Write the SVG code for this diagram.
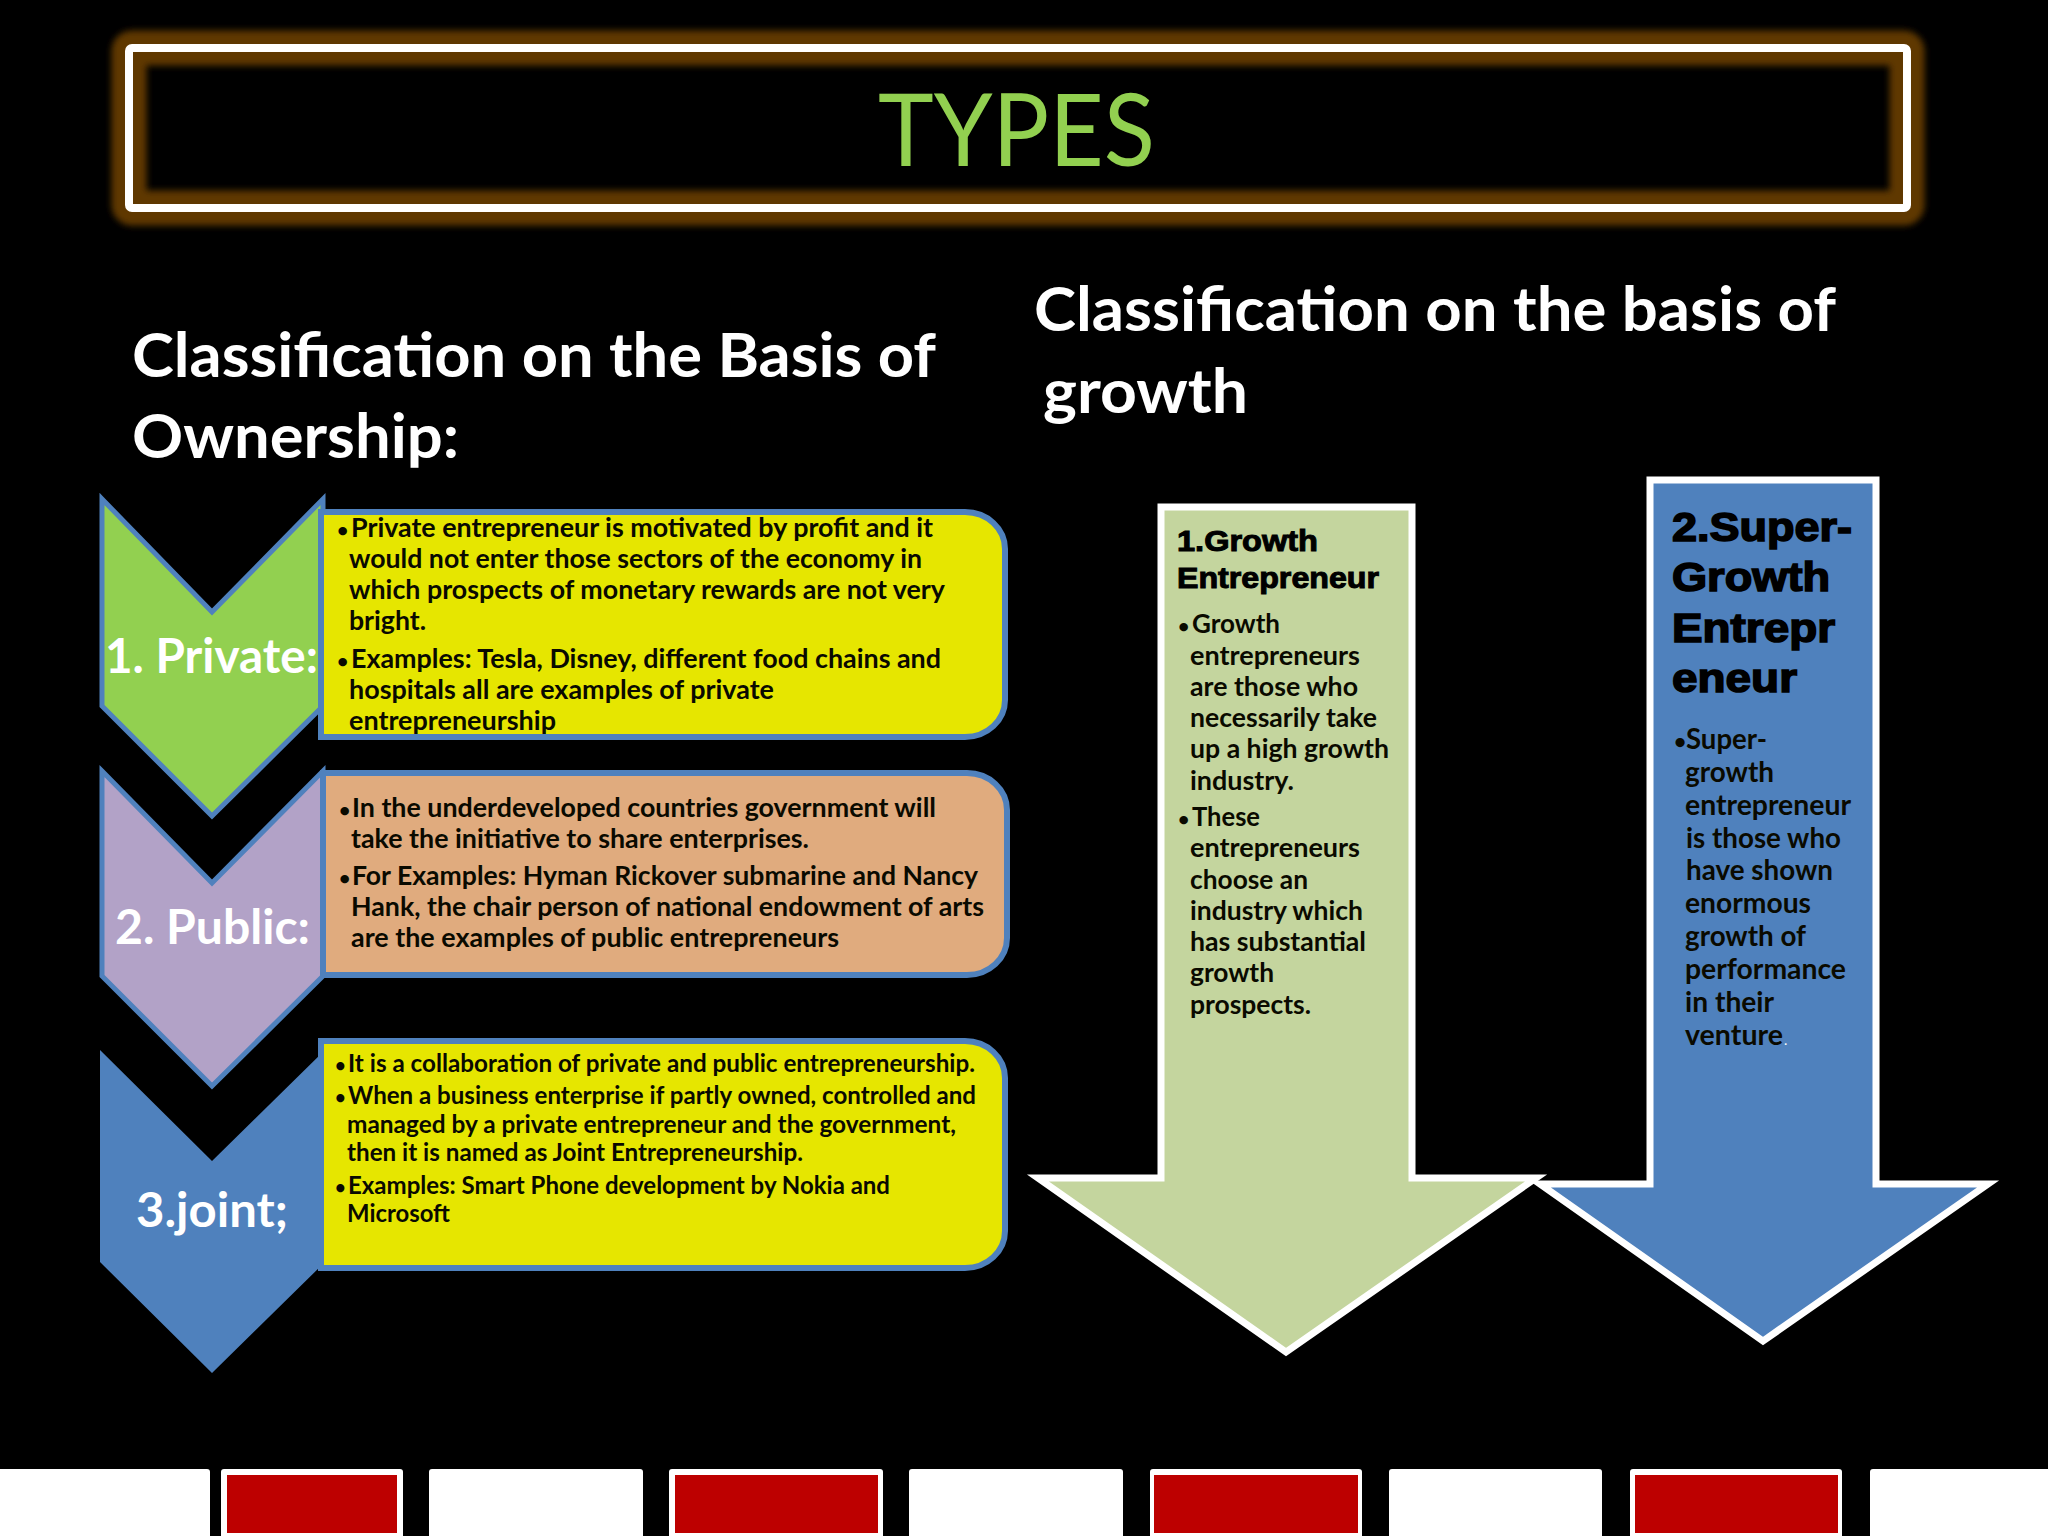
<svg xmlns="http://www.w3.org/2000/svg" width="2048" height="1536" viewBox="0 0 2048 1536">
<style>
text{font-family:"Lato","Open Sans","Liberation Sans",sans-serif}
.h{font-size:62px;font-weight:700;fill:#fff}
.lab{font-size:47px;font-weight:700;fill:#fff;text-anchor:start}
.b{font-weight:700;fill:#0a0a00}
.b1{font-size:26px}
.b3{font-size:24.5px}
.a1{font-size:26px}
.a2{font-size:28px}
.dot{font-size:.75em}
.hd text{font-family:"Liberation Sans",Arial,sans-serif;font-weight:700;fill:#000;stroke:#000}
.chev{stroke:#4f81bd;stroke-width:5;stroke-miterlimit:10}
.box{stroke:#4f81bd;stroke-width:6}
.arr{stroke:#fff;stroke-width:7;stroke-miterlimit:10}
.w{fill:#fff}
.r{fill:#bd0000}
</style>
<defs>
<filter id="glow" filterUnits="userSpaceOnUse" x="60" y="0" width="1920" height="270"><feGaussianBlur stdDeviation="3"/></filter>
</defs>
<rect width="2048" height="1536" fill="#000"/>
<g id="title">
<rect x="129" y="48" width="1778" height="160" rx="3" fill="none" stroke="#5e3800" stroke-width="35" filter="url(#glow)"/>
<rect x="129" y="48" width="1778" height="160" rx="3" fill="none" stroke="#fff" stroke-width="8"/>
<text x="878" y="166" font-size="101" fill="#92d050" textLength="277" lengthAdjust="spacingAndGlyphs">TYPES</text>
</g>
<g id="heading-ownership">
<text class="h" x="132" y="377" textLength="804" lengthAdjust="spacingAndGlyphs">Classification on the Basis of</text>
<text class="h" x="132" y="458" textLength="327" lengthAdjust="spacingAndGlyphs">Ownership:</text>
</g>
<g id="heading-growth">
<text class="h" x="1034" y="331" textLength="802" lengthAdjust="spacingAndGlyphs">Classification on the basis of</text>
<text class="h" x="1043" y="413" textLength="205" lengthAdjust="spacingAndGlyphs">growth</text>
</g>
<g id="node-private">
<path class="chev" fill="#92d050" d="M102 499 L212 612 L323 499 L323 706 L212 816 L102 706 Z"/>
<path class="box" fill="#e6e600" d="M321 512 H965 A40 37 0 0 1 1005 549 V700 A40 37 0 0 1 965 737 H321 Z"/>
<text class="lab" x="105" y="673" textLength="213" lengthAdjust="spacingAndGlyphs">1. Private:</text>
<g class="b b1">
<text y="537"><tspan class="dot" x="337">•</tspan><tspan x="351" textLength="582" lengthAdjust="spacingAndGlyphs">Private entrepreneur is motivated by profit and it</tspan></text>
<text x="349" y="568" textLength="573" lengthAdjust="spacingAndGlyphs">would not enter those sectors of the economy in</text>
<text x="349" y="599" textLength="596" lengthAdjust="spacingAndGlyphs">which prospects of monetary rewards are not very</text>
<text x="349" y="630" textLength="77" lengthAdjust="spacingAndGlyphs">bright.</text>
<text y="668"><tspan class="dot" x="337">•</tspan><tspan x="351" textLength="590" lengthAdjust="spacingAndGlyphs">Examples: Tesla, Disney, different food chains and</tspan></text>
<text x="349" y="699" textLength="425" lengthAdjust="spacingAndGlyphs">hospitals all are examples of private</text>
<text x="349" y="730" textLength="207" lengthAdjust="spacingAndGlyphs">entrepreneurship</text>
</g>
</g>
<g id="node-public">
<path class="chev" fill="#b2a2c7" d="M102 771 L212 883 L323 771 L323 976 L212 1086 L102 976 Z"/>
<path class="box" fill="#e0ab7e" d="M323 773 H967 A40 37 0 0 1 1007 810 V938 A40 37 0 0 1 967 975 H323 Z"/>
<text class="lab" x="115" y="944" textLength="195" lengthAdjust="spacingAndGlyphs">2. Public:</text>
<g class="b b1">
<text y="817"><tspan class="dot" x="339">•</tspan><tspan x="352" textLength="584" lengthAdjust="spacingAndGlyphs">In the underdeveloped countries government will</tspan></text>
<text x="351" y="848" textLength="458" lengthAdjust="spacingAndGlyphs">take the initiative to share enterprises.</text>
<text y="885"><tspan class="dot" x="339">•</tspan><tspan x="352" textLength="626" lengthAdjust="spacingAndGlyphs">For Examples: Hyman Rickover submarine and Nancy</tspan></text>
<text x="351" y="916" textLength="633" lengthAdjust="spacingAndGlyphs">Hank, the chair person of national endowment of arts</text>
<text x="351" y="947" textLength="488" lengthAdjust="spacingAndGlyphs">are the examples of public entrepreneurs</text>
</g>
</g>
<g id="node-joint">
<path fill="#4f81bd" d="M100 1050 L212 1161 L325 1050 V1262 L212 1373 L100 1262 Z"/>
<path class="box" fill="#e6e600" d="M321 1041 H965 A40 37 0 0 1 1005 1078 V1231 A40 37 0 0 1 965 1268 H321 Z"/>
<text class="lab" x="136" y="1227" textLength="152" lengthAdjust="spacingAndGlyphs">3.joint;</text>
<g class="b b3">
<text y="1072"><tspan class="dot" x="335">•</tspan><tspan x="348" textLength="627" lengthAdjust="spacingAndGlyphs">It is a collaboration of private and public entrepreneurship.</tspan></text>
<text y="1104"><tspan class="dot" x="335">•</tspan><tspan x="348" textLength="628" lengthAdjust="spacingAndGlyphs">When a business enterprise if partly owned, controlled and</tspan></text>
<text x="347" y="1133" textLength="609" lengthAdjust="spacingAndGlyphs">managed by a private entrepreneur and the government,</text>
<text x="347" y="1161" textLength="456" lengthAdjust="spacingAndGlyphs">then it is named as Joint Entrepreneurship.</text>
<text y="1194"><tspan class="dot" x="335">•</tspan><tspan x="348" textLength="542" lengthAdjust="spacingAndGlyphs">Examples: Smart Phone development by Nokia and</tspan></text>
<text x="347" y="1222" textLength="103" lengthAdjust="spacingAndGlyphs">Microsoft</text>
</g>
</g>
<g id="node-super-growth">
<path class="arr" fill="#4f81bd" d="M1650 480 H1876 V1184 H1988 L1763 1341 L1540 1184 H1650 Z"/>
<g class="hd" stroke-width="1.6" font-size="41">
<text x="1672" y="541" textLength="180" lengthAdjust="spacingAndGlyphs">2.Super-</text>
<text x="1672" y="591" textLength="158" lengthAdjust="spacingAndGlyphs">Growth</text>
<text x="1672" y="642" textLength="163" lengthAdjust="spacingAndGlyphs">Entrepr</text>
<text x="1672" y="692" textLength="125" lengthAdjust="spacingAndGlyphs">eneur</text>
</g>
<g class="b a2">
<text y="749"><tspan class="dot" x="1674">•</tspan><tspan x="1686" textLength="81" lengthAdjust="spacingAndGlyphs">Super-</tspan></text>
<text x="1685" y="782" textLength="89" lengthAdjust="spacingAndGlyphs">growth</text>
<text x="1685" y="815" textLength="166" lengthAdjust="spacingAndGlyphs">entrepreneur</text>
<text x="1686" y="848" textLength="155" lengthAdjust="spacingAndGlyphs">is those who</text>
<text x="1686" y="880" textLength="147" lengthAdjust="spacingAndGlyphs">have shown</text>
<text x="1685" y="913" textLength="126" lengthAdjust="spacingAndGlyphs">enormous</text>
<text x="1685" y="946" textLength="121" lengthAdjust="spacingAndGlyphs">growth of</text>
<text x="1685" y="979" textLength="161" lengthAdjust="spacingAndGlyphs">performance</text>
<text x="1685" y="1012" textLength="89" lengthAdjust="spacingAndGlyphs">in their</text>
<text y="1045"><tspan x="1685" textLength="98" lengthAdjust="spacingAndGlyphs">venture</tspan><tspan x="1784" style="fill:#fff;font-weight:400;font-size:14px">.</tspan></text>
</g>
</g>
<g id="node-growth">
<path class="arr" fill="#c4d59e" d="M1161 507 H1412 V1178 H1536 L1286 1352 L1038 1178 H1161 Z"/>
<g class="hd" stroke-width="1" font-size="29">
<text x="1177" y="551" textLength="141" lengthAdjust="spacingAndGlyphs">1.Growth</text>
<text x="1177" y="588" textLength="202" lengthAdjust="spacingAndGlyphs">Entrepreneur</text>
</g>
<g class="b a1">
<text y="633"><tspan class="dot" x="1178">•</tspan><tspan x="1192" textLength="88" lengthAdjust="spacingAndGlyphs">Growth</tspan></text>
<text x="1190" y="665" textLength="170" lengthAdjust="spacingAndGlyphs">entrepreneurs</text>
<text x="1190" y="696" textLength="168" lengthAdjust="spacingAndGlyphs">are those who</text>
<text x="1190" y="727" textLength="187" lengthAdjust="spacingAndGlyphs">necessarily take</text>
<text x="1190" y="758" textLength="199" lengthAdjust="spacingAndGlyphs">up a high growth</text>
<text x="1190" y="790" textLength="104" lengthAdjust="spacingAndGlyphs">industry.</text>
<text y="826"><tspan class="dot" x="1178">•</tspan><tspan x="1192" textLength="68" lengthAdjust="spacingAndGlyphs">These</tspan></text>
<text x="1190" y="857" textLength="170" lengthAdjust="spacingAndGlyphs">entrepreneurs</text>
<text x="1190" y="889" textLength="118" lengthAdjust="spacingAndGlyphs">choose an</text>
<text x="1190" y="920" textLength="173" lengthAdjust="spacingAndGlyphs">industry which</text>
<text x="1190" y="951" textLength="176" lengthAdjust="spacingAndGlyphs">has substantial</text>
<text x="1190" y="982" textLength="84" lengthAdjust="spacingAndGlyphs">growth</text>
<text x="1190" y="1014" textLength="121" lengthAdjust="spacingAndGlyphs">prospects.</text>
</g>
</g>
<g id="footer-bar">
<rect class="w" x="-5" y="1469" width="215" height="72" rx="3"/>
<rect class="w" x="221" y="1469" width="182" height="72" rx="3"/><rect class="r" x="227" y="1475" width="170" height="58"/>
<rect class="w" x="429" y="1469" width="214" height="72" rx="3"/>
<rect class="w" x="669" y="1469" width="214" height="72" rx="3"/><rect class="r" x="675" y="1475" width="203" height="58"/>
<rect class="w" x="909" y="1469" width="214" height="72" rx="3"/>
<rect class="w" x="1150" y="1469" width="212" height="72" rx="3"/><rect class="r" x="1154" y="1475" width="204" height="58"/>
<rect class="w" x="1389" y="1469" width="213" height="72" rx="3"/>
<rect class="w" x="1630" y="1469" width="212" height="72" rx="3"/><rect class="r" x="1635" y="1475" width="203" height="58"/>
<rect class="w" x="1870" y="1469" width="183" height="72" rx="3"/>
</g>
</svg>
